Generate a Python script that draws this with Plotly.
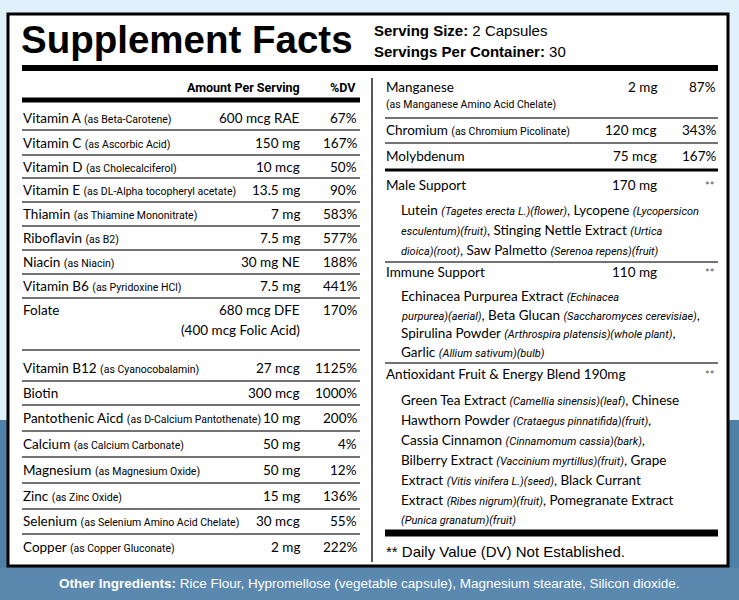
import plotly.graph_objects as go

MAIN = "Lato"
NARROW = "Roboto"

title = "Supplement Facts"
serving_size = "2 Capsules"
servings_per_container = "30"

left_names = ["Vitamin A", "Vitamin C", "Vitamin D", "Vitamin E", "Thiamin", "Riboflavin", "Niacin",
              "Vitamin B6", "Folate", "Vitamin B12", "Biotin", "Pantothenic Aicd", "Calcium", "Magnesium",
              "Zinc", "Selenium", "Copper"]
left_forms = ["(as Beta-Carotene)", "(as Ascorbic Acid)", "(as Cholecalciferol)", "(as DL-Alpha tocopheryl acetate)",
              "(as Thiamine Mononitrate)", "(as B2)", "(as Niacin)", "(as Pyridoxine HCl)", "",
              "(as Cyanocobalamin)", "", "(as D-Calcium Pantothenate)", "(as Calcium Carbonate)",
              "(as Magnesium Oxide)", "(as Zinc Oxide)", "(as Selenium Amino Acid Chelate)", "(as Copper Gluconate)"]
left_amounts = ["600 mcg RAE", "150 mg", "10 mcg", "13.5 mg", "7 mg", "7.5 mg", "30 mg NE", "7.5 mg",
                "680 mcg DFE", "27 mcg", "300 mcg", "10 mg", "50 mg", "50 mg", "15 mg", "30 mcg", "2 mg"]
left_dv = ["67%", "167%", "50%", "90%", "583%", "577%", "188%", "441%", "170%", "1125%", "1000%", "200%",
           "4%", "12%", "136%", "55%", "222%"]
folate_note = "(400 mcg Folic Acid)"

right_min_names = ["Manganese", "Chromium", "Molybdenum"]
right_min_forms = ["(as Manganese Amino Acid Chelate)", "(as Chromium Picolinate)", ""]
right_min_amounts = ["2 mg", "120 mcg", "75 mcg"]
right_min_dv = ["87%", "343%", "167%"]

blend_names = ["Male Support", "Immune Support", "Antioxidant Fruit & Energy Blend 190mg"]
blend_amounts = ["170 mg", "110 mg", ""]
blend_dv = ["**", "**", "**"]
I = lambda s: f"<i><span style='font-family:{NARROW};font-size:11px'>{s}</span></i>"
blend_lines = [
    ["Lutein " + I("(Tagetes erecta L.)(flower)") + ", Lycopene " + I("(Lycopersicon"),
     I("esculentum)(fruit)") + ", Stinging Nettle Extract " + I("(Urtica"),
     I("dioica)(root)") + ", Saw Palmetto " + I("(Serenoa repens)(fruit)")],
    ["Echinacea Purpurea Extract " + I("(Echinacea"),
     I("purpurea)(aerial)") + ", Beta Glucan " + I("(Saccharomyces cerevisiae)") + ",",
     "Spirulina Powder " + I("(Arthrospira platensis)(whole plant)") + ",",
     "Garlic " + I("(Allium sativum)(bulb)")],
    ["Green Tea Extract " + I("(Camellia sinensis)(leaf)") + ", Chinese",
     "Hawthorn Powder " + I("(Crataegus pinnatifida)(fruit)") + ",",
     "Cassia Cinnamon " + I("(Cinnamomum cassia)(bark)") + ",",
     "Bilberry Extract " + I("(Vaccinium myrtillus)(fruit)") + ", Grape",
     "Extract " + I("(Vitis vinifera L.)(seed)") + ", Black Currant",
     "Extract " + I("(Ribes nigrum)(fruit)") + ", Pomegranate Extract",
     I("(Punica granatum)(fruit)")],
]
footnote = "** Daily Value (DV) Not Established."
other_ingredients = "Rice Flour, Hypromellose (vegetable capsule), Magnesium stearate, Silicon dioxide."

# ---- layout constants ----
left_row_y = [118, 143, 167, 190, 214, 238, 262, 286, 310, 368, 393, 418, 444, 470, 496, 521, 547]
left_sep_y = [130, 155, 178, 202, 226, 250, 274, 298, 350, 381, 405, 431, 457, 483, 509, 534]
right_min_y = [87, 130, 156]
right_sep_y = [118, 143]
blend_y = [185, 272, 374]
blend_line_start = [210, 296, 400]
blend_step = [20, 18.5, 20]
blend_sep_y = [262, 363]

shapes = []
def rect(x0, y0, x1, y1, color, lw=0, lc=None):
    shapes.append(dict(type="rect", xref="x", yref="y", x0=x0, y0=y0, x1=x1, y1=y1,
                       fillcolor=color, line=dict(width=lw, color=lc or color), layer="below"))
def line(x0, y0, x1, y1, w, c="#333"):
    shapes.append(dict(type="line", xref="x", yref="y", x0=x0, y0=y0, x1=x1, y1=y1,
                       line=dict(width=w, color=c)))

rect(0, 0, 739, 420, "#e1f1fb")
rect(0, 420, 739, 600, "#4f80a8")
rect(0, 568, 739, 600, "#5b88ae")
rect(8, 14, 728, 566, "white", 3, "black")
line(22, 68, 718, 68, 6, "black")
line(22, 100, 360, 100, 5, "black")
line(372, 78, 372, 562, 1.5, "#222")
for y in left_sep_y:
    line(22, y, 360, y, 1.5, "#444")
for y in right_sep_y + blend_sep_y:
    line(385, y, 718, y, 1.5, "#444")
line(385, 170, 718, 170, 3, "black")
line(385, 533, 718, 533, 7, "black")

ann = []
def txt(x, y, s, size=14, anchor="left", font=MAIN, color="black"):
    ann.append(dict(x=x, y=y, xref="x", yref="y", text=s, showarrow=False, xanchor=anchor,
                    yanchor="middle", font=dict(size=size, family=font, color=color)))

SM = f"<span style='font-family:{NARROW};font-size:10.5px'>"
txt(19, 39, "<b>" + title + "</b>", 38.5, font="Liberation Sans")
txt(372, 30, "<b>Serving Size:</b> " + serving_size, 15, font="Liberation Sans")
txt(372, 51, "<b>Servings Per Container:</b> " + servings_per_container, 15, font="Liberation Sans")
txt(302, 87, "<b>Amount Per Serving</b>", 12.5, "right", NARROW)
txt(358, 87, "<b>%DV</b>", 12.5, "right", NARROW)

for n, f, a, d, y in zip(left_names, left_forms, left_amounts, left_dv, left_row_y):
    s = n + (f" {SM}{f}</span>" if f else "")
    txt(21, y, s, 13.5)
    txt(302, y, a, 13.5, "right")
    txt(359, y, d, 13.5, "right")
txt(302, 330, folate_note, 13.5, "right")

for n, f, a, d, y in zip(right_min_names, right_min_forms, right_min_amounts, right_min_dv, right_min_y):
    if n == "Manganese":
        txt(384, y, n, 13.5)
        txt(384, 104, SM + f + "</span>", 10.5)
    else:
        s = n + (f" {SM}{f}</span>" if f else "")
        txt(384, y, s, 13.5)
    txt(659, y, a, 13.5, "right")
    txt(718, y, d, 13.5, "right")

for n, a, d, y, ls, y0, st in zip(blend_names, blend_amounts, blend_dv, blend_y, blend_lines, blend_line_start, blend_step):
    txt(384, y, n, 13.5)
    if a:
        txt(659, y, a, 13.5, "right")
    txt(716, y, d, 11, "right", color="#555")
    for i, l in enumerate(ls):
        txt(399, y0 + i * st, l, 13.5)

txt(384, 551, footnote, 15, font="Liberation Sans")
txt(369, 583, "<b>Other Ingredients:</b> " + other_ingredients, 13.5, "center", "Liberation Sans", "white")

fig = go.Figure()
fig.update_layout(width=739, height=600, margin=dict(l=0, r=0, t=0, b=0),
                  xaxis=dict(range=[0, 739], visible=False, fixedrange=True),
                  yaxis=dict(range=[600, 0], visible=False, fixedrange=True),
                  plot_bgcolor="white", paper_bgcolor="white",
                  shapes=shapes, annotations=ann, showlegend=False)
fig.write_html("out.html", config={"displayModeBar": False},
               post_script="document.body.style.margin='0';document.body.style.overflow='hidden';")
